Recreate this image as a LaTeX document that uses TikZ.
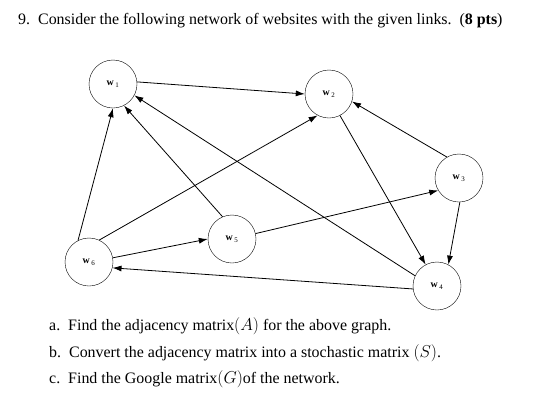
\documentclass[tikz,border=0pt]{standalone}
\usepackage{amsmath}
\usepackage{fontspec}
\setmainfont{Liberation Serif}
\usetikzlibrary{arrows.meta}

\begin{document}
\begin{tikzpicture}[x=1bp,y=-1bp,
  site/.style={draw,shape=circle,minimum size=48bp,inner sep=0pt,font=\fontsize{10}{10}\selectfont},
  link/.style={-{Latex[length=9bp,width=6bp]},line width=0.8bp},
  txt/.style={anchor=base west,inner sep=0pt,font=\fontsize{16}{18}\selectfont}]
  \useasboundingbox (0,0) rectangle (535,419);
  %\tikzstyle{every node}=[draw,shape=circle];
  \node[txt] (q) at (18,24) {9.\ \ Consider the following network of websites with the given links.\ \ (\textbf{8 pts})};
  \node[site] (w1) at (113,84) {\textbf{w}\,\textsubscript{1}};
  \node[site] (w2) at (329,94) {\textbf{w}\,\textsubscript{2}};
  \node[site] (w3) at (459,178) {\textbf{w}\,\textsubscript{3}};
  \node[site] (w4) at (437,286) {\textbf{w}\,\textsubscript{4}};
  \node[site] (w5) at (232,239) {\textbf{w}\,\textsubscript{5}};
  \node[site] (w6) at (89,262) {\textbf{w}\,\textsubscript{6}};
  \draw[link] (w1.5) -- (w2.180);
  \draw[link] (w6.117) -- (w1.270);
  \draw[link] (w5.113) -- (w1.297);
  \draw[link] (w4.155) -- (w1.332);
  \draw[link] (w6.65) -- (w2.242);
  \draw[link] (w3.120) -- (w2.342);
  \draw[link] (w2.297) -- (w4.118);
  \draw[link] (w3.272) -- (w4.62);
  \draw[link] (w5.13) -- (w3.211);
  \draw[link] (w6.10) -- (w5.180);
  \draw[link] (w4.187) -- (w6.346);
  \node[txt] (a) at (49,330) {a.\ \ Find the adjacency matrix$(A)$ for the above graph.};
  \node[txt] (b) at (49,357) {b.\ \ Convert the adjacency matrix into a stochastic matrix $(S)$.};
  \node[txt] (c) at (49,383) {c.\ \ Find the Google matrix$(G)$of the network.};
\end{tikzpicture}
\end{document}
